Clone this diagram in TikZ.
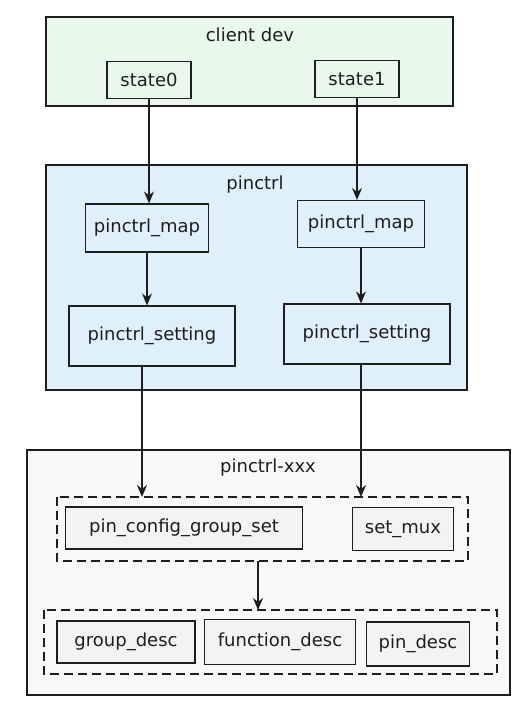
\documentclass[tikz,border=0pt]{standalone}
\usepackage{fontspec}
\setmainfont{DejaVu Sans}
\usetikzlibrary{arrows.meta}

\definecolor{ink}{HTML}{1E1E1E}
\definecolor{clientfill}{HTML}{E8F8EA}
\definecolor{ctrlfill}{HTML}{E0F0FB}
\definecolor{xxxfill}{HTML}{F7F8F9}
\definecolor{descfill}{HTML}{F1F3F5}

\tikzset{
  box/.style={draw=ink, line width=1.1pt, rectangle, inner sep=0pt,
    font=\fontsize{18}{20}\selectfont, text=ink},
  group/.style={draw=ink, line width=1.1pt, rectangle, inner sep=0pt},
  dashbox/.style={draw=ink, line width=1.2pt, dash pattern=on 9pt off 5pt},
  title/.style={font=\fontsize{18}{20}\selectfont, text=ink},
  arr/.style={draw=ink, line width=1.1pt, -{Stealth[length=12pt,width=10pt]}}
}

\begin{document}
\begin{tikzpicture}[x=1pt,y=-1pt]
  \useasboundingbox (0,0) rectangle (527,706);

  % Outer groups
  \draw[group, fill=clientfill] (46,17) rectangle (453,106);
  \draw[group, fill=ctrlfill] (46,165) rectangle (467,390);
  \draw[group, fill=xxxfill] (27,450) rectangle (510,695);

  \node[title] (client) at (250,35) {client dev};
  \node[title] (ctrl) at (255,185) {pinctrl};
  \node[title] (xxx) at (268,468) {pinctrl-xxx};

  % client dev
  \node[box, minimum width=84pt, minimum height=37pt] (st0) at (149,80) {state0};
  \node[box, minimum width=84pt, minimum height=37pt] (st1) at (357,79) {state1};

  % pinctrl
  \node[box, minimum width=123pt, minimum height=48pt] (mapa) at (147,228) {pinctrl\_map};
  \node[box, minimum width=127pt, minimum height=47pt] (mapb) at (361,224) {pinctrl\_map};
  \node[box, minimum width=166pt, minimum height=60pt] (seta) at (152,336) {pinctrl\_setting};
  \node[box, minimum width=166pt, minimum height=60pt] (setb) at (367,334) {pinctrl\_setting};

  % pinctrl-xxx
  \draw[dashbox] (57,497) rectangle (468,561);
  \draw[dashbox] (44,610) rectangle (497,674);
  \coordinate (opstop) at (258,497);
  \coordinate (opsbot) at (258,561);
  \coordinate (desctop) at (258,610);

  \node[box, fill=descfill, minimum width=237pt, minimum height=42pt] (cfg) at (184,528) {pin\_config\_group\_set};
  \node[box, fill=descfill, minimum width=101pt, minimum height=43pt] (mux) at (403,529) {set\_mux};
  \node[box, fill=descfill, minimum width=138pt, minimum height=42pt] (grp) at (126,642) {group\_desc};
  \node[box, fill=descfill, minimum width=151pt, minimum height=45pt] (fun) at (280,642) {function\_desc};
  \node[box, fill=descfill, minimum width=103pt, minimum height=44pt] (pin) at (418,644) {pin\_desc};

  % Arrows
  \draw[arr] (st0.south) -- (st0.south |- mapa.north);
  \draw[arr] (st1.south) -- (st1.south |- mapb.north);
  \draw[arr] (mapa.south) -- (mapa.south |- seta.north);
  \draw[arr] (mapb.south) -- (mapb.south |- setb.north);
  \draw[arr] ([xshift=-10pt]seta.south) -- ([xshift=-10pt]seta.south |- opstop);
  \draw[arr] ([xshift=-6pt]setb.south) -- ([xshift=-6pt]setb.south |- opstop);
  \draw[arr] (opsbot) -- (desctop);
\end{tikzpicture}
\end{document}
